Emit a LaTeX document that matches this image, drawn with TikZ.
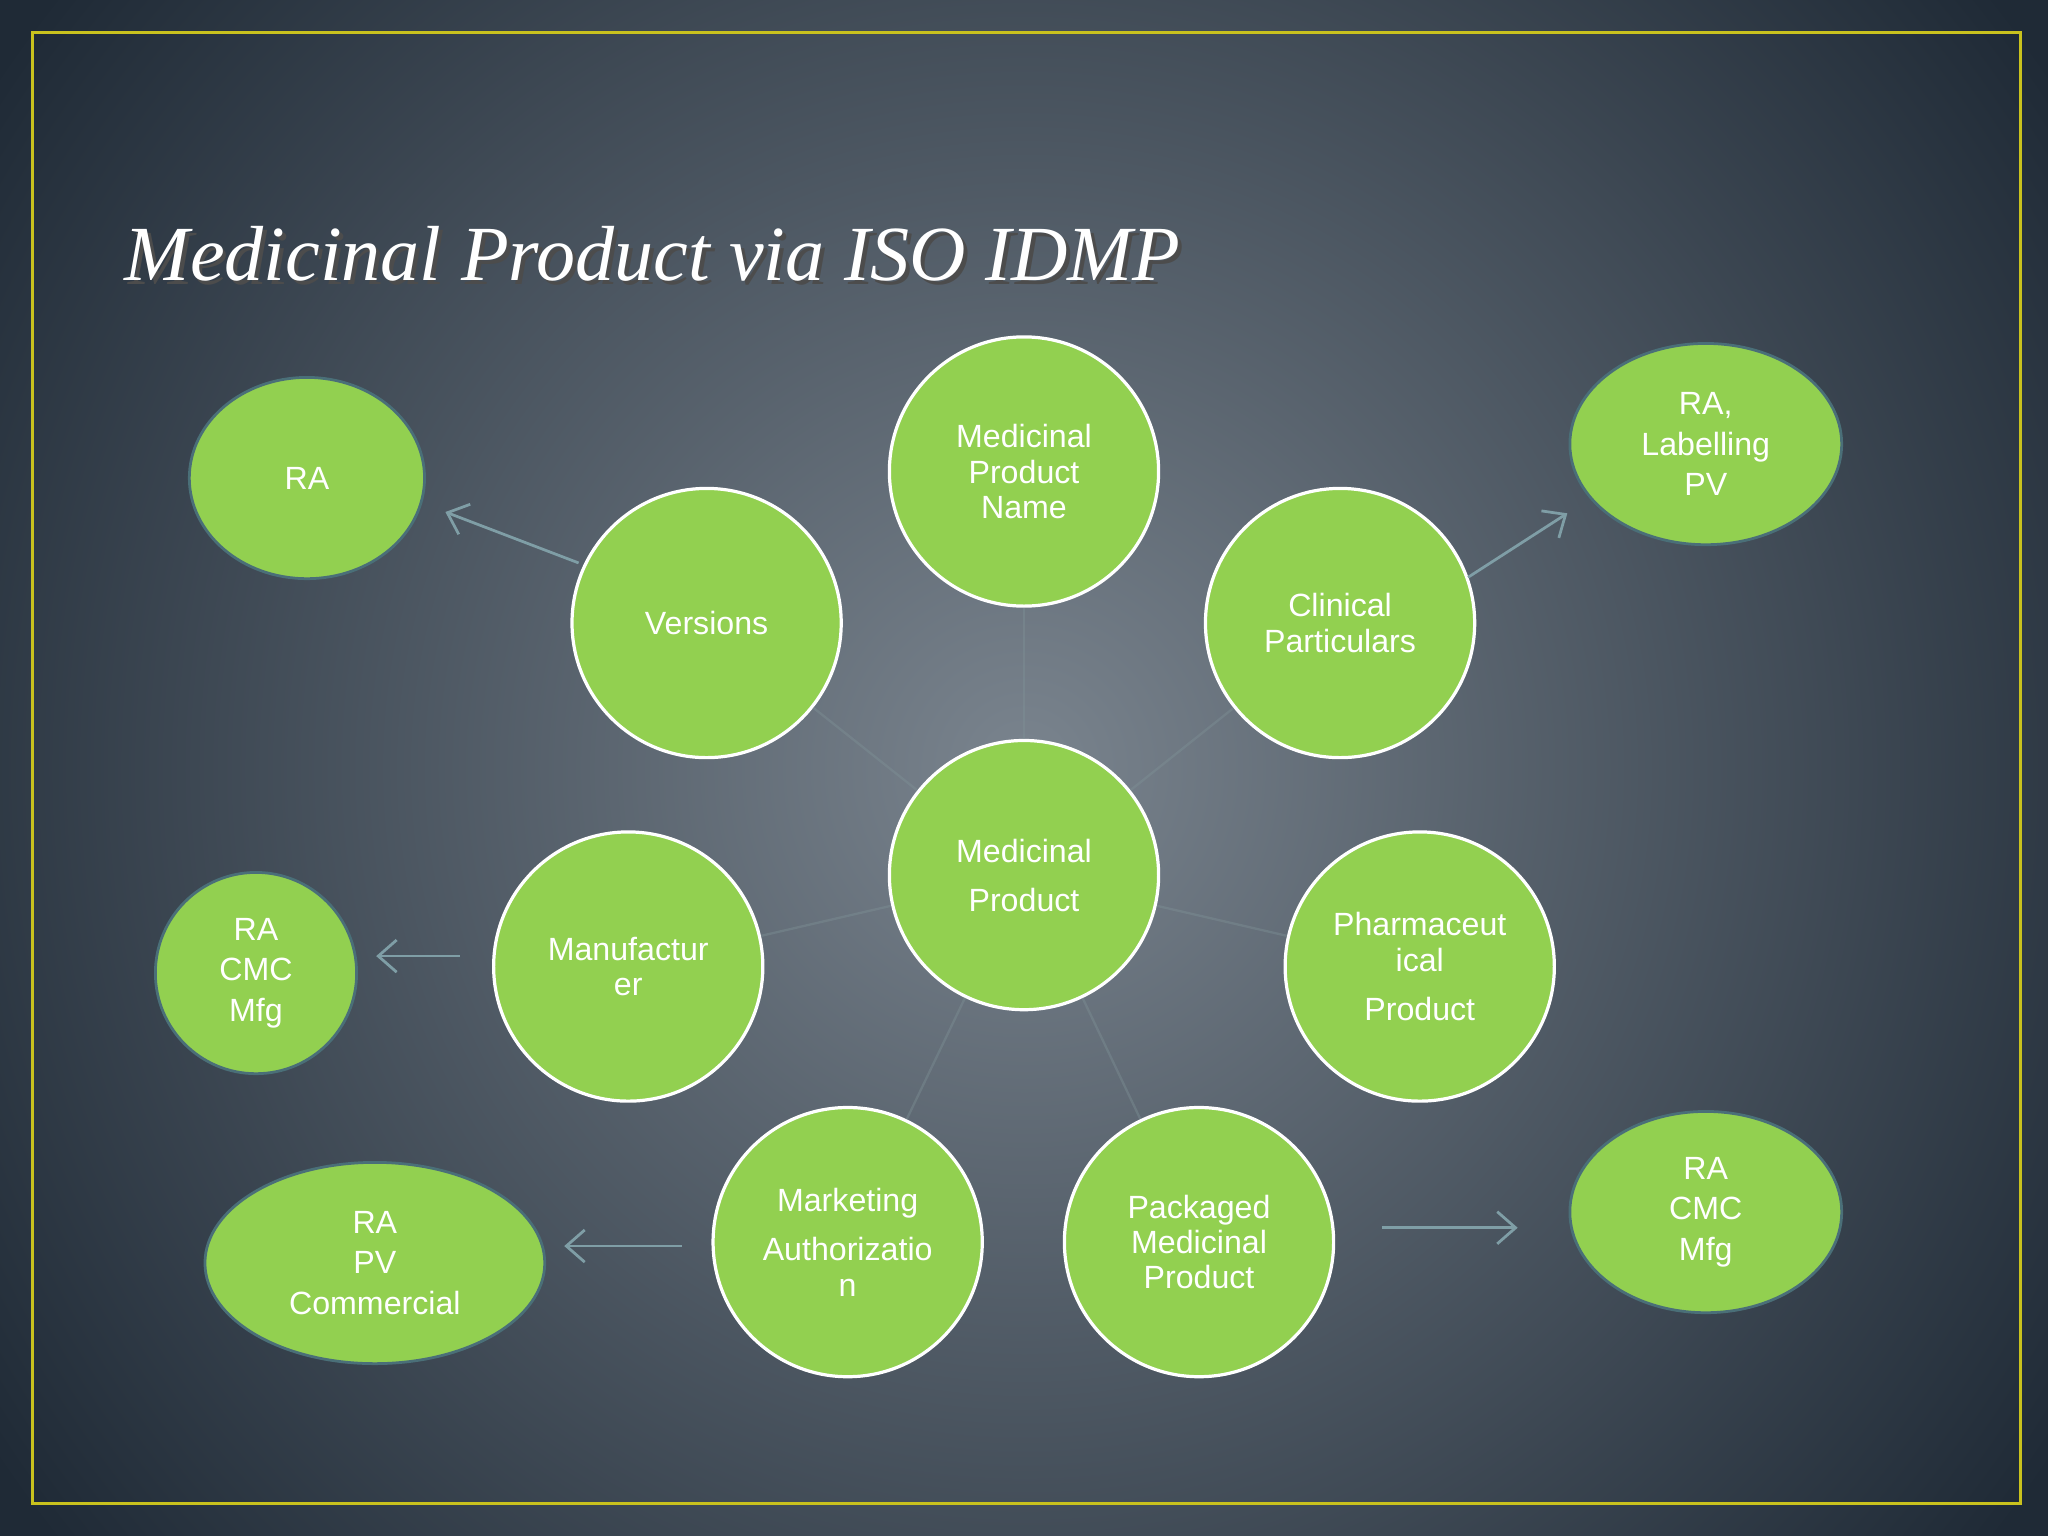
\documentclass[tikz,border=0pt]{standalone}
\usepackage{fontspec}
\setmainfont{Liberation Sans}
\newfontfamily\titlefont{Liberation Serif}
\usetikzlibrary{shapes.geometric,arrows.meta}
\definecolor{grn}{HTML}{92D050}
\definecolor{edgec}{HTML}{7F9EA6}
\definecolor{ellb}{HTML}{4A6F78}
\definecolor{frame}{HTML}{C9C21E}
\tikzset{
  x=0.01cm,y=-0.01cm,
  circ/.style={circle,fill=grn,draw=white,line width=0.7pt,minimum size=2.06cm,inner sep=0pt,
    text=white,font=\fontsize{7pt}{7.7pt}\selectfont,align=center},
  ell/.style={ellipse,fill=grn,draw=ellb,line width=0.6pt,inner sep=0pt,
    text=white,font=\fontsize{7pt}{8.8pt}\selectfont,align=center},
  link/.style={draw=edgec!60!gray,line width=0.5pt,opacity=0.4},
  arr/.style={draw=edgec,line width=0.6pt,-{Straight Barb[length=4pt,width=7pt]}},
  ttl/.style={anchor=base west,inner sep=0pt,font=\titlefont\itshape\fontsize{17pt}{18pt}\selectfont}
}
\begin{document}
\begin{tikzpicture}
\useasboundingbox (0,0) rectangle (1568,1176);
\fill[color={rgb,255:red,31;green,42;blue,54}] (0,0) rectangle (1568,1176);
\shade[inner color={rgb,255:red,122;green,132;blue,142},outer color={rgb,255:red,31;green,42;blue,54}] (784,588) circle[radius=950];
\draw[frame,line width=0.8pt] (25,25) rectangle (1547,1151);
\node[ttl,text=black!70] at (98,218) {Medicinal Product via ISO IDMP};
\node[ttl,text=white] (title) at (95,215) {Medicinal Product via ISO IDMP};

\node[circ] (mp) at (784,670) {Medicinal\\[3pt]Product};
\node[circ] (mpn) at (784,361) {Medicinal\\Product\\Name};
\node[circ] (ver) at (541,477) {Versions};
\node[circ] (cp) at (1026,477) {Clinical\\Particulars};
\node[circ] (man) at (481,740) {Manufactur\\er};
\node[circ] (pp) at (1087,740) {Pharmaceut\\ical\\[3pt]Product};
\node[circ] (ma) at (649,951) {Marketing\\[3pt]Authorizatio\\n};
\node[circ] (pmp) at (918,951) {Packaged\\Medicinal\\Product};

\foreach \n in {mpn,ver,cp,man,pp,ma,pmp} \draw[link] (mp) -- (\n);

\node[ell,minimum width=1.8cm,minimum height=1.54cm] (ra1) at (235,366) {RA};
\node[ell,minimum width=2.08cm,minimum height=1.54cm] (ra2) at (1306,340) {RA,\\Labelling\\PV};
\node[ell,minimum width=1.54cm,minimum height=1.54cm] (ra3) at (196,745) {RA\\CMC\\Mfg};
\node[ell,minimum width=2.6cm,minimum height=1.54cm] (ra4) at (287,967) {RA\\PV\\Commercial};
\node[ell,minimum width=2.08cm,minimum height=1.54cm] (ra5) at (1306,928) {RA\\CMC\\Mfg};

\coordinate (a1s) at (443,431); \coordinate (a1e) at (341,392);
\coordinate (a2s) at (1124,442); \coordinate (a2e) at (1200,393);
\coordinate (a3s) at (352,732); \coordinate (a3e) at (288,732);
\coordinate (a4s) at (522,954); \coordinate (a4e) at (432,954);
\coordinate (a5s) at (1058,940); \coordinate (a5e) at (1162,940);
\foreach \i in {1,...,5} \draw[arr] (a\i s) -- (a\i e);
\end{tikzpicture}
\end{document}
